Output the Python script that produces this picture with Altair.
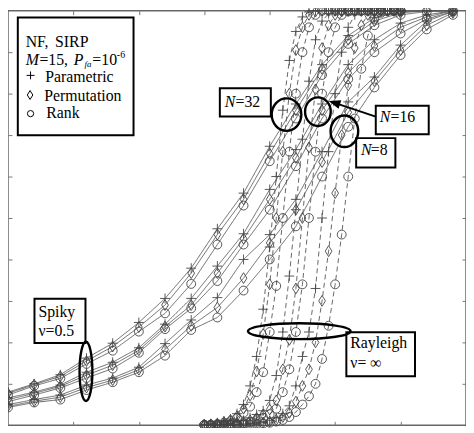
import altair as alt
import pandas as pd

# ---------------- data ----------------
# SCR grid (dB, relative to the left edge of the plot)
S_SPIKY = [0, 2, 4, 6, 8, 10, 12, 14, 16, 18, 20, 22, 24, 26, 28, 30, 32, 34]
S_RAY = [15.0, 15.5, 16.0, 16.5, 17.0, 17.5, 18.0, 18.5, 19.0, 19.5, 20.0,
         20.5, 21.0, 21.5, 22.0, 22.5, 23.0, 23.5, 24.0, 24.5, 25.0, 25.5,
         26.0, 26.5, 27.0, 27.5, 28.0, 28.5, 29.0, 29.5, 30.0]

# Spiky clutter, nu = 0.5 (solid)
spiky_n32_param = [0.080, 0.100, 0.122, 0.162, 0.198, 0.248, 0.306, 0.379, 0.474, 0.560, 0.673, 0.775, 0.870, 0.940, 0.983, 0.998, 1.000, 1.000]
spiky_n32_perm = [0.077, 0.098, 0.118, 0.155, 0.190, 0.237, 0.290, 0.367, 0.460, 0.545, 0.655, 0.760, 0.860, 0.930, 0.975, 0.995, 1.000, 1.000]
spiky_n32_rank = [0.073, 0.095, 0.113, 0.148, 0.180, 0.226, 0.270, 0.341, 0.436, 0.530, 0.637, 0.740, 0.845, 0.920, 0.965, 0.990, 0.998, 1.000]
spiky_n16_param = [0.066, 0.080, 0.097, 0.128, 0.152, 0.187, 0.244, 0.306, 0.384, 0.462, 0.569, 0.665, 0.775, 0.870, 0.930, 0.970, 0.990, 1.000]
spiky_n16_perm = [0.062, 0.077, 0.094, 0.121, 0.145, 0.181, 0.238, 0.290, 0.367, 0.450, 0.545, 0.645, 0.760, 0.850, 0.915, 0.960, 0.985, 1.000]
spiky_n16_rank = [0.057, 0.073, 0.090, 0.114, 0.137, 0.175, 0.232, 0.282, 0.348, 0.436, 0.520, 0.625, 0.740, 0.835, 0.900, 0.945, 0.980, 0.998]
spiky_n8_param = [0.050, 0.062, 0.073, 0.097, 0.114, 0.140, 0.197, 0.254, 0.308, 0.400, 0.460, 0.545, 0.660, 0.780, 0.840, 0.917, 0.975, 0.998]
spiky_n8_perm = [0.046, 0.058, 0.068, 0.091, 0.109, 0.134, 0.183, 0.240, 0.284, 0.355, 0.440, 0.520, 0.635, 0.755, 0.830, 0.905, 0.965, 0.995]
spiky_n8_rank = [0.043, 0.055, 0.062, 0.085, 0.104, 0.128, 0.168, 0.230, 0.260, 0.325, 0.400, 0.480, 0.600, 0.720, 0.815, 0.893, 0.955, 0.990]

# Rayleigh clutter, nu = infinity (dashed)
ray_n32_param = [0.002, 0.004, 0.006, 0.010, 0.015, 0.028, 0.050, 0.095, 0.166, 0.280, 0.430, 0.600, 0.760, 0.880, 0.950, 0.985, 0.997,
                 1.0, 1.0, 1.0, 1.0, 1.0, 1.0, 1.0, 1.0, 1.0, 1.0, 1.0, 1.0, 1.0, 1.0]
ray_n32_perm = [0.001, 0.002, 0.004, 0.008, 0.013, 0.022, 0.040, 0.072, 0.130, 0.220, 0.340, 0.500, 0.660, 0.800, 0.905, 0.960, 0.990, 0.998,
                1.0, 1.0, 1.0, 1.0, 1.0, 1.0, 1.0, 1.0, 1.0, 1.0, 1.0, 1.0, 1.0]
ray_n32_rank = [0.001, 0.001, 0.003, 0.006, 0.010, 0.018, 0.030, 0.045, 0.080, 0.128, 0.225, 0.336, 0.500, 0.660, 0.800, 0.900, 0.960, 0.990,
                1.0, 1.0, 1.0, 1.0, 1.0, 1.0, 1.0, 1.0, 1.0, 1.0, 1.0, 1.0, 1.0]
ray_n16_param = [0.001, 0.001, 0.002, 0.003, 0.005, 0.008, 0.012, 0.018, 0.026, 0.035, 0.060, 0.120, 0.225, 0.360, 0.520, 0.690, 0.830, 0.930,
                 0.975, 0.993, 1.0, 1.0, 1.0, 1.0, 1.0, 1.0, 1.0, 1.0, 1.0, 1.0, 1.0]
ray_n16_perm = [0.001, 0.001, 0.001, 0.002, 0.003, 0.005, 0.008, 0.012, 0.018, 0.026, 0.038, 0.060, 0.135, 0.206, 0.330, 0.500, 0.670, 0.810,
                0.910, 0.965, 0.990, 0.998, 1.0, 1.0, 1.0, 1.0, 1.0, 1.0, 1.0, 1.0, 1.0]
ray_n16_rank = [0.001, 0.001, 0.001, 0.001, 0.002, 0.003, 0.005, 0.008, 0.012, 0.018, 0.027, 0.040, 0.080, 0.135, 0.225, 0.340, 0.500, 0.660,
                0.800, 0.900, 0.960, 0.990, 0.998, 1.0, 1.0, 1.0, 1.0, 1.0, 1.0, 1.0, 1.0]
ray_n8_param = [0.001, 0.001, 0.001, 0.001, 0.002, 0.002, 0.003, 0.004, 0.006, 0.008, 0.012, 0.018, 0.028, 0.047, 0.095, 0.166, 0.225, 0.330,
                0.500, 0.660, 0.800, 0.900, 0.960, 0.990, 0.998, 1.0, 1.0, 1.0, 1.0, 1.0, 1.0]
ray_n8_perm = [0.001, 0.001, 0.001, 0.001, 0.001, 0.002, 0.002, 0.003, 0.004, 0.006, 0.009, 0.013, 0.020, 0.030, 0.057, 0.095, 0.135, 0.200,
               0.300, 0.420, 0.560, 0.700, 0.820, 0.910, 0.965, 0.990, 0.998, 1.0, 1.0, 1.0, 1.0]
ray_n8_rank = [0.001, 0.001, 0.001, 0.001, 0.001, 0.001, 0.002, 0.002, 0.003, 0.004, 0.006, 0.009, 0.013, 0.020, 0.032, 0.050, 0.070, 0.100,
               0.160, 0.240, 0.340, 0.460, 0.600, 0.740, 0.860, 0.940, 0.980, 0.995, 1.0, 1.0, 1.0]

METHODS = ["Parametric", "Permutation", "Rank"]
CURVES = [
    ("sp32p", "Spiky", "Parametric", S_SPIKY, spiky_n32_param),
    ("sp32m", "Spiky", "Permutation", S_SPIKY, spiky_n32_perm),
    ("sp32r", "Spiky", "Rank", S_SPIKY, spiky_n32_rank),
    ("sp16p", "Spiky", "Parametric", S_SPIKY, spiky_n16_param),
    ("sp16m", "Spiky", "Permutation", S_SPIKY, spiky_n16_perm),
    ("sp16r", "Spiky", "Rank", S_SPIKY, spiky_n16_rank),
    ("sp8p", "Spiky", "Parametric", S_SPIKY, spiky_n8_param),
    ("sp8m", "Spiky", "Permutation", S_SPIKY, spiky_n8_perm),
    ("sp8r", "Spiky", "Rank", S_SPIKY, spiky_n8_rank),
    ("ra32p", "Rayleigh", "Parametric", S_RAY, ray_n32_param),
    ("ra32m", "Rayleigh", "Permutation", S_RAY, ray_n32_perm),
    ("ra32r", "Rayleigh", "Rank", S_RAY, ray_n32_rank),
    ("ra16p", "Rayleigh", "Parametric", S_RAY, ray_n16_param),
    ("ra16m", "Rayleigh", "Permutation", S_RAY, ray_n16_perm),
    ("ra16r", "Rayleigh", "Rank", S_RAY, ray_n16_rank),
    ("ra8p", "Rayleigh", "Parametric", S_RAY, ray_n8_param),
    ("ra8m", "Rayleigh", "Permutation", S_RAY, ray_n8_perm),
    ("ra8r", "Rayleigh", "Rank", S_RAY, ray_n8_rank),
]

rows = []
for key, model, method, grid, vals in CURVES:
    for s, p in zip(grid, vals):
        rows.append({"curve": key, "model": model, "method": method, "s": s, "pd": p})
df = pd.DataFrame(rows)

# ---------------- layout / styles ----------------
W, H = 464, 420
XS = alt.Scale(domain=[0, 35], nice=False, zero=False)
YS = alt.Scale(domain=[0, 1], nice=False, zero=False)
XT = [5, 10, 15, 20, 25, 30]
YT = [0.1, 0.2, 0.3, 0.4, 0.5, 0.6, 0.7, 0.8, 0.9]
FONT = "Liberation Serif"


def ax(orient, values):
    return alt.Axis(orient=orient, values=values, labels=False, domain=False, grid=False,
                    ticks=True, tickSize=4, offset=-4, tickColor="#777", tickWidth=1,
                    title=None)


# reference-pixel position -> data position (annotations only)
def dx(px):
    return (px - 5) / 467 * 35


def dy(py):
    return (428 - py) / 423


PLUS = "M -1 0 L 1 0 M 0 -1 L 0 1"
DIAMOND = "M 0 -1 L 0.62 0 L 0 1 L -0.62 0 Z"
ARROW = "M -1 0 L 1 -0.75 L 1 0.75 Z"
MARK = {"Parametric": (PLUS, 100), "Permutation": (DIAMOND, 121), "Rank": ("circle", 81)}
LEG_MARK = {"Parametric": (PLUS, 64), "Permutation": (DIAMOND, 81), "Rank": ("circle", 40)}


def ellipse_path(rx, ry):
    r = max(rx, ry)
    a, b, k = rx / r, ry / r, 0.5523
    p = (f"M {a:.4f} 0 C {a:.4f} {k*b:.4f} {k*a:.4f} {b:.4f} 0 {b:.4f} "
         f"C {-k*a:.4f} {b:.4f} {-a:.4f} {k*b:.4f} {-a:.4f} 0 "
         f"C {-a:.4f} {-k*b:.4f} {-k*a:.4f} {-b:.4f} 0 {-b:.4f} "
         f"C {k*a:.4f} {-b:.4f} {a:.4f} {-k*b:.4f} {a:.4f} 0 Z")
    return p, (2 * r) ** 2


def X(field, axis=None):
    return alt.X(field, type="quantitative", scale=XS, axis=axis)


def Y(field, axis=None):
    return alt.Y(field, type="quantitative", scale=YS, axis=axis)


# ---------------- curves ----------------
lines = alt.Chart(df).mark_line(color="#555", strokeWidth=0.9).encode(
    x=X("s", ax("bottom", XT)),
    y=Y("pd", ax("left", YT)),
    detail="curve:N",
    order="s:Q",
    strokeDash=alt.StrokeDash("model:N", scale=alt.Scale(domain=["Spiky", "Rayleigh"],
                                                         range=[[1, 0], [5, 3.5]]), legend=None),
)

point_layers = []
for i, m in enumerate(METHODS):
    shp, sz = MARK[m]
    point_layers.append(
        alt.Chart(df).transform_filter(alt.datum.method == m)
        .mark_point(shape=shp, size=sz, filled=False, color="#444", strokeWidth=0.9, opacity=1)
        .encode(x=X("s", ax("top", XT) if i == 0 else None),
                y=Y("pd", ax("right", YT) if i == 0 else None))
    )

# ---------------- annotations ----------------
box_px = [(15, 12, 133, 132), (221, 84, 273, 113), (380, 102, 434, 131),
          (360, 135, 400, 165), (32, 299, 84, 344), (350, 333, 420, 378)]
boxes_df = pd.DataFrame([{"x": dx(a), "x2": dx(c), "y": dy(b), "y2": dy(d)} for a, b, c, d in box_px])
boxes = alt.Chart(boxes_df).mark_rect(fill="white", stroke="black", strokeWidth=2).encode(
    x=X("x"), x2="x2", y=Y("y"), y2="y2")

ell_px = [(289, 111, 15, 16.5), (321, 108, 13, 14.5), (348, 128, 14, 16),
          (84.5, 373, 6.5, 30), (302, 332, 52, 8)]
ell_rows = []
for cx, cy, rx, ry in ell_px:
    p, sz = ellipse_path(rx, ry)
    ell_rows.append({"x": dx(cx), "y": dy(cy), "shape": p, "size": sz})
ellipses = alt.Chart(pd.DataFrame(ell_rows)).mark_point(filled=False, color="black",
                                                         strokeWidth=2.4, opacity=1).encode(
    x=X("x"), y=Y("y"), shape=alt.Shape("shape:N", scale=None), size=alt.Size("size:Q", scale=None))

arrow_df = pd.DataFrame({"x": [dx(380), dx(338)], "y": [dy(113), dy(99)], "o": [0, 1]})
arrow_line = alt.Chart(arrow_df).mark_line(color="black", strokeWidth=2).encode(
    x=X("x"), y=Y("y"), order="o:Q")
arrow_head = alt.Chart(pd.DataFrame({"x": [dx(337.7)], "y": [dy(98.9)]})).mark_point(
    shape=ARROW, size=144, filled=True, color="black", angle=18, opacity=1).encode(x=X("x"), y=Y("y"))

leg_pos = {"Parametric": (28, 71), "Permutation": (27.5, 91), "Rank": (28, 110)}
legend_marks = []
for m in METHODS:
    shp, sz = LEG_MARK[m]
    px, py = leg_pos[m]
    legend_marks.append(
        alt.Chart(pd.DataFrame({"x": [dx(px)], "y": [dy(py)]}))
        .mark_point(shape=shp, size=sz, filled=False, color="black", strokeWidth=1, opacity=1)
        .encode(x=X("x"), y=Y("y"))
    )

texts_normal = [
    ("NF,", 23, 42, 16), ("SIRP", 53, 42, 16),
    ("=15,", 37, 60, 16), ("=10", 91, 60, 16), ("-6", 116, 53, 10),
    ("Parametric", 43, 78, 16), ("Permutation", 42, 97, 16), ("Rank", 44, 114, 16),
    ("=32", 237, 103, 16), ("=16", 395, 119, 16), ("=8", 375, 152, 16),
    ("Spiky", 36, 318, 16), ("ν=0.5", 36, 337, 16),
    ("Rayleigh", 354, 349, 16), ("ν= ∞", 354, 370, 16),
]
texts_italic = [
    ("M", 23, 60, 16), ("P", 72, 60, 16), ("fa", 83, 62.5, 9),
    ("N", 226, 103, 16), ("N", 384, 119, 16), ("N", 365, 152, 16),
]


def text_layer(items, style):
    d = pd.DataFrame([{"t": t, "x": dx(a), "y": dy(b), "fs": f} for t, a, b, f in items])
    return alt.Chart(d).mark_text(align="left", baseline="alphabetic", font=FONT,
                                  fontStyle=style, color="black").encode(
        x=X("x"), y=Y("y"), text="t:N", size=alt.Size("fs:Q", scale=None))


chart = alt.layer(
    lines, *point_layers, boxes, ellipses, arrow_line, arrow_head, *legend_marks,
    text_layer(texts_normal, "normal"), text_layer(texts_italic, "italic"),
).resolve_axis(x="independent", y="independent").properties(
    width=W, height=H, padding=0, autosize=alt.AutoSizeParams(type="none"),
    background="white",
).configure_view(stroke="#666", strokeWidth=1.5)

chart.save("out.html", embed_options={"renderer": "svg", "actions": False})
